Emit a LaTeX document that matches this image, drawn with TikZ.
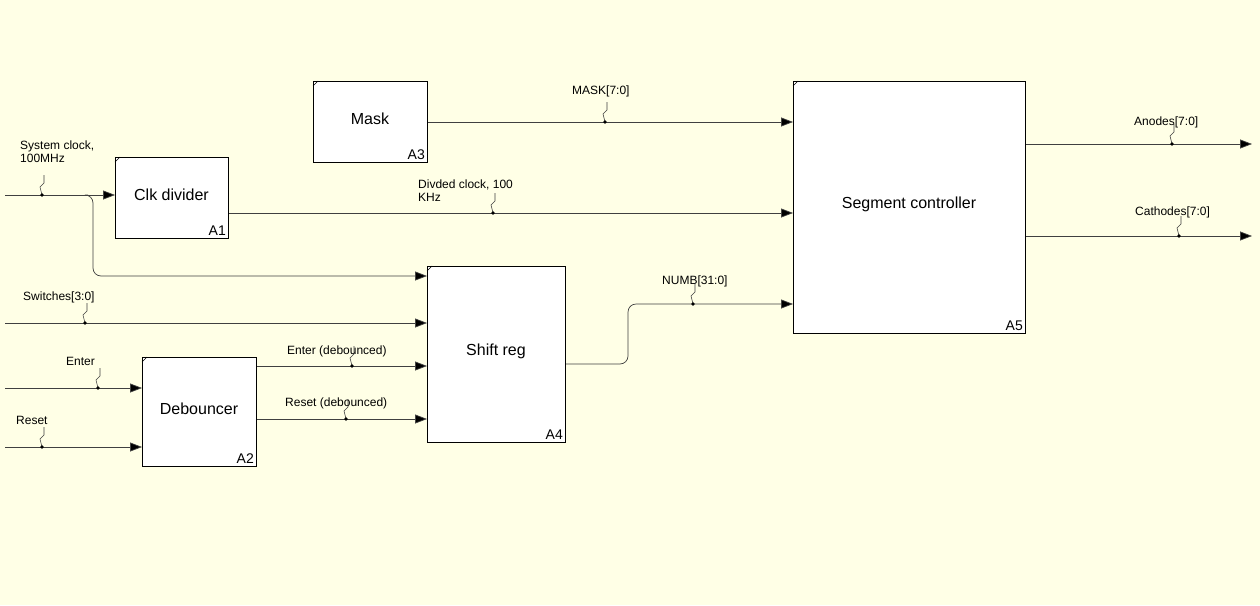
\documentclass[tikz,border=0pt]{standalone}
\usepackage{fontspec}
\setmainfont{Liberation Sans}
\usetikzlibrary{arrows.meta}
\definecolor{bg}{HTML}{FFFFE6}
\definecolor{ln}{HTML}{404040}
\tikzset{
 x=1pt,y=-1pt,
 blk/.style={draw=black,fill=white,line width=0.8pt,inner sep=0},
 arr/.style={draw=ln,line width=0.7pt,-{Triangle[length=12pt,width=9pt,fill=black]},rounded corners=8pt},
 lbl/.style={font=\fontsize{12}{13}\selectfont,align=left,inner sep=0,anchor=south west},
 sq/.style={draw=ln,line width=0.6pt}
}
\newcommand{\blkbox}[6]{%
 \draw[blk] (#1,#2) rectangle (#3,#4);
 \draw[line width=0.6pt] (#1,#2+5) -- (#1+5,#2);
 \node[font=\fontsize{16}{18}\selectfont] (#6) at ({(#1+#3)/2},{(#2+#4)/2-3}) {#5};
 \node[font=\fontsize{14}{15}\selectfont,anchor=south east,inner sep=2pt] at (#3,#4) {A#6};}
\newcommand{\squig}[2]{%
 \draw[sq] (#1,#2) -- (#1-2,#2-8) -- (#1+2,#2-12) -- (#1+2,#2-20);
 \fill (#1,#2) circle (1.8);}
\begin{document}
\begin{tikzpicture}
\fill[bg] (0,0) rectangle (1260,605);
\useasboundingbox (0,0) rectangle (1260,605);
% arrows
\draw[arr] (5,195) -- (115,195);
\draw[arr] (88,195) -- (93,195) -- (93,276) -- (427,276);
\draw[arr] (228,213) -- (793,213);
\draw[arr] (427,122) -- (793,122);
\draw[arr] (5,323) -- (427,323);
\draw[arr] (5,388) -- (142,388);
\draw[arr] (5,447) -- (142,447);
\draw[arr] (256,366) -- (427,366);
\draw[arr] (256,419) -- (427,419);
\draw[arr] (565,364) -- (628,364) -- (628,304) -- (793,304);
\draw[arr] (1025,144) -- (1252,144);
\draw[arr] (1025,236) -- (1252,236);
% blocks
\blkbox{115}{157}{228}{238}{Clk divider}{1}
\blkbox{313}{81}{427}{162}{Mask}{3}
\blkbox{793}{81}{1025}{333}{Segment controller}{5}
\blkbox{427}{266}{565}{442}{Shift reg}{4}
\blkbox{142}{357}{256}{466}{Debouncer}{2}
% squiggles and labels
\squig{42}{195}\node[lbl] at (20,163) {System clock,\\100MHz};
\squig{493}{213}\node[lbl] at (418,202) {Divded clock, 100\\KHz};
\squig{605}{122}\node[lbl] at (572,97) {MASK[7:0]};
\squig{85}{323}\node[lbl] at (23,303) {Switches[3:0]};
\squig{98}{388}\node[lbl] at (66,366) {Enter};
\squig{42}{447}\node[lbl] at (16,425) {Reset};
\squig{352}{366}\node[lbl] at (287,357) {Enter (debounced)};
\squig{346}{419}\node[lbl] at (285,409) {Reset (debounced)};
\squig{693}{304}\node[lbl] at (662,287) {NUMB[31:0]};
\squig{1172}{144}\node[lbl] at (1134,128) {Anodes[7:0]};
\squig{1179}{236}\node[lbl] at (1135,218) {Cathodes[7:0]};
\end{tikzpicture}
\end{document}
